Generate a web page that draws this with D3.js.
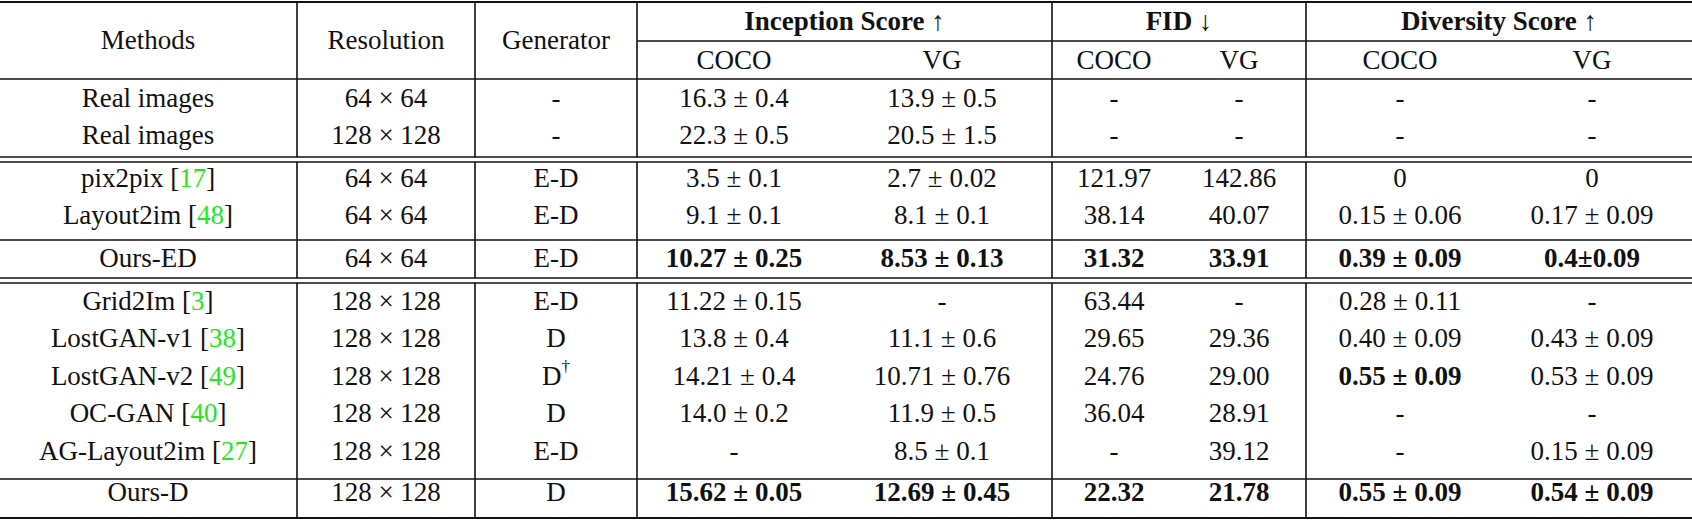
<!DOCTYPE html>
<html>
<head>
<meta charset="utf-8">
<script src="https://cdn.jsdelivr.net/npm/d3@7"></script>
<style>
  body { margin: 0; background: #fff; }
  svg text { font-family: "Liberation Serif", "Times New Roman", Times, serif; font-size: 27px; fill: #111; }
</style>
</head>
<body>
<div id="chart"></div>
<script>
// table contents
const methods = ["Real images", "Real images", "pix2pix", "Layout2im", "Ours-ED", "Grid2Im",
  "LostGAN-v1", "LostGAN-v2", "OC-GAN", "AG-Layout2im", "Ours-D"];
const cites = [null, null, "17", "48", null, "3", "38", "49", "40", "27", null];
const resolution = ["64 × 64", "128 × 128", "64 × 64", "64 × 64", "64 × 64", "128 × 128",
  "128 × 128", "128 × 128", "128 × 128", "128 × 128", "128 × 128"];
const generator = ["-", "-", "E-D", "E-D", "E-D", "E-D", "D", "D†", "D", "E-D", "D"];
const isCoco = ["16.3 ± 0.4", "22.3 ± 0.5", "3.5 ± 0.1", "9.1 ± 0.1", "10.27 ± 0.25", "11.22 ± 0.15",
  "13.8 ± 0.4", "14.21 ± 0.4", "14.0 ± 0.2", "-", "15.62 ± 0.05"];
const isVg = ["13.9 ± 0.5", "20.5 ± 1.5", "2.7 ± 0.02", "8.1 ± 0.1", "8.53 ± 0.13", "-",
  "11.1 ± 0.6", "10.71 ± 0.76", "11.9 ± 0.5", "8.5 ± 0.1", "12.69 ± 0.45"];
const fidCoco = ["-", "-", "121.97", "38.14", "31.32", "63.44", "29.65", "24.76", "36.04", "-", "22.32"];
const fidVg = ["-", "-", "142.86", "40.07", "33.91", "-", "29.36", "29.00", "28.91", "39.12", "21.78"];
const divCoco = ["-", "-", "0", "0.15 ± 0.06", "0.39 ± 0.09", "0.28 ± 0.11", "0.40 ± 0.09",
  "0.55 ± 0.09", "-", "-", "0.55 ± 0.09"];
const divVg = ["-", "-", "0", "0.17 ± 0.09", "0.4±0.09", "-", "0.43 ± 0.09", "0.53 ± 0.09",
  "-", "0.15 ± 0.09", "0.54 ± 0.09"];
const rowGroup = [0, 0, 1, 1, 2, 3, 3, 3, 3, 3, 4];
// bold cells: [row, column]
const boldCells = [[4,3],[4,4],[4,5],[4,6],[4,7],[4,8],[7,7],[10,3],[10,4],[10,5],[10,6],[10,7],[10,8]];

const topHeaders = ["Methods", "Resolution", "Generator"];
const groupHeaders = ["Inception Score ↑", "FID ↓", "Diversity Score ↑"];
const subHeaders = ["COCO", "VG", "COCO", "VG", "COCO", "VG"];

const W = 1692, H = 523;
const svg = d3.select("#chart").append("svg").attr("width", W).attr("height", H);

// column centres and boundaries
const colX = d3.scaleOrdinal().domain(d3.range(9))
  .range([148, 386, 556, 734, 942, 1114, 1239, 1400, 1592]);
const vLines = [297, 475, 637, 1052, 1306];
const groupSpan = [[637, 1052], [1052, 1306], [1306, 1692]];

// row positions: step within a group, extra room at separators
const step = 37.4;
const groupExtra = [0, 5, 10, 16, 20];
const rowY = i => 98 + i * step + groupExtra[rowGroup[i]];

const columns = [methods, resolution, generator, isCoco, isVg, fidCoco, fidVg, divCoco, divVg];
const isBold = (r, c) => boldCells.some(b => b[0] === r && b[1] === c);

// header
svg.selectAll("text.top").data(topHeaders).enter().append("text")
  .attr("class", "top").attr("x", (d, i) => colX(i)).attr("y", 40)
  .attr("text-anchor", "middle").attr("dominant-baseline", "central").text(d => d);
svg.selectAll("text.grp").data(groupHeaders).enter().append("text")
  .attr("class", "grp").attr("x", (d, i) => (groupSpan[i][0] + groupSpan[i][1]) / 2).attr("y", 21)
  .attr("text-anchor", "middle").attr("dominant-baseline", "central")
  .style("font-weight", "bold").text(d => d);
svg.selectAll("text.sub").data(subHeaders).enter().append("text")
  .attr("class", "sub").attr("x", (d, i) => colX(i + 3)).attr("y", 60)
  .attr("text-anchor", "middle").attr("dominant-baseline", "central").text(d => d);

// body cells
columns.forEach((col, c) => {
  col.forEach((val, r) => {
    const t = svg.append("text")
      .attr("x", colX(c)).attr("y", rowY(r))
      .attr("text-anchor", "middle").attr("dominant-baseline", "central")
      .style("font-weight", isBold(r, c) ? "bold" : "normal");
    if (c === 0 && cites[r]) {
      t.append("tspan").text(val + " [");
      t.append("tspan").style("fill", "#1ee81e").text(cites[r]);
      t.append("tspan").text("]");
    } else if (c === 2 && val.endsWith("†")) {
      t.append("tspan").text(val.slice(0, -1));
      t.append("tspan").attr("dy", -10).style("font-size", "17px").text("†");
    } else {
      t.text(val);
    }
  });
});

// rules
const hLine = (y, x1, x2, w) => svg.append("line")
  .attr("x1", x1).attr("x2", x2).attr("y1", y).attr("y2", y)
  .attr("stroke", "#111").attr("stroke-width", w || 1.6);
hLine(2, 0, W, 2);
hLine(41, 637, W);
hLine(79, 0, W);
[157, 162, 240, 278, 283, 479].forEach(y => hLine(y, 0, W));
hLine(518, 0, W, 2);

const vSegs = [[2, 157], [162, 278], [283, 518]];
vLines.forEach(x => {
  vSegs.forEach(s => {
    svg.append("line").attr("x1", x).attr("x2", x).attr("y1", s[0]).attr("y2", s[1])
      .attr("stroke", "#111").attr("stroke-width", 1.6);
  });
});
</script>
</body>
</html>
